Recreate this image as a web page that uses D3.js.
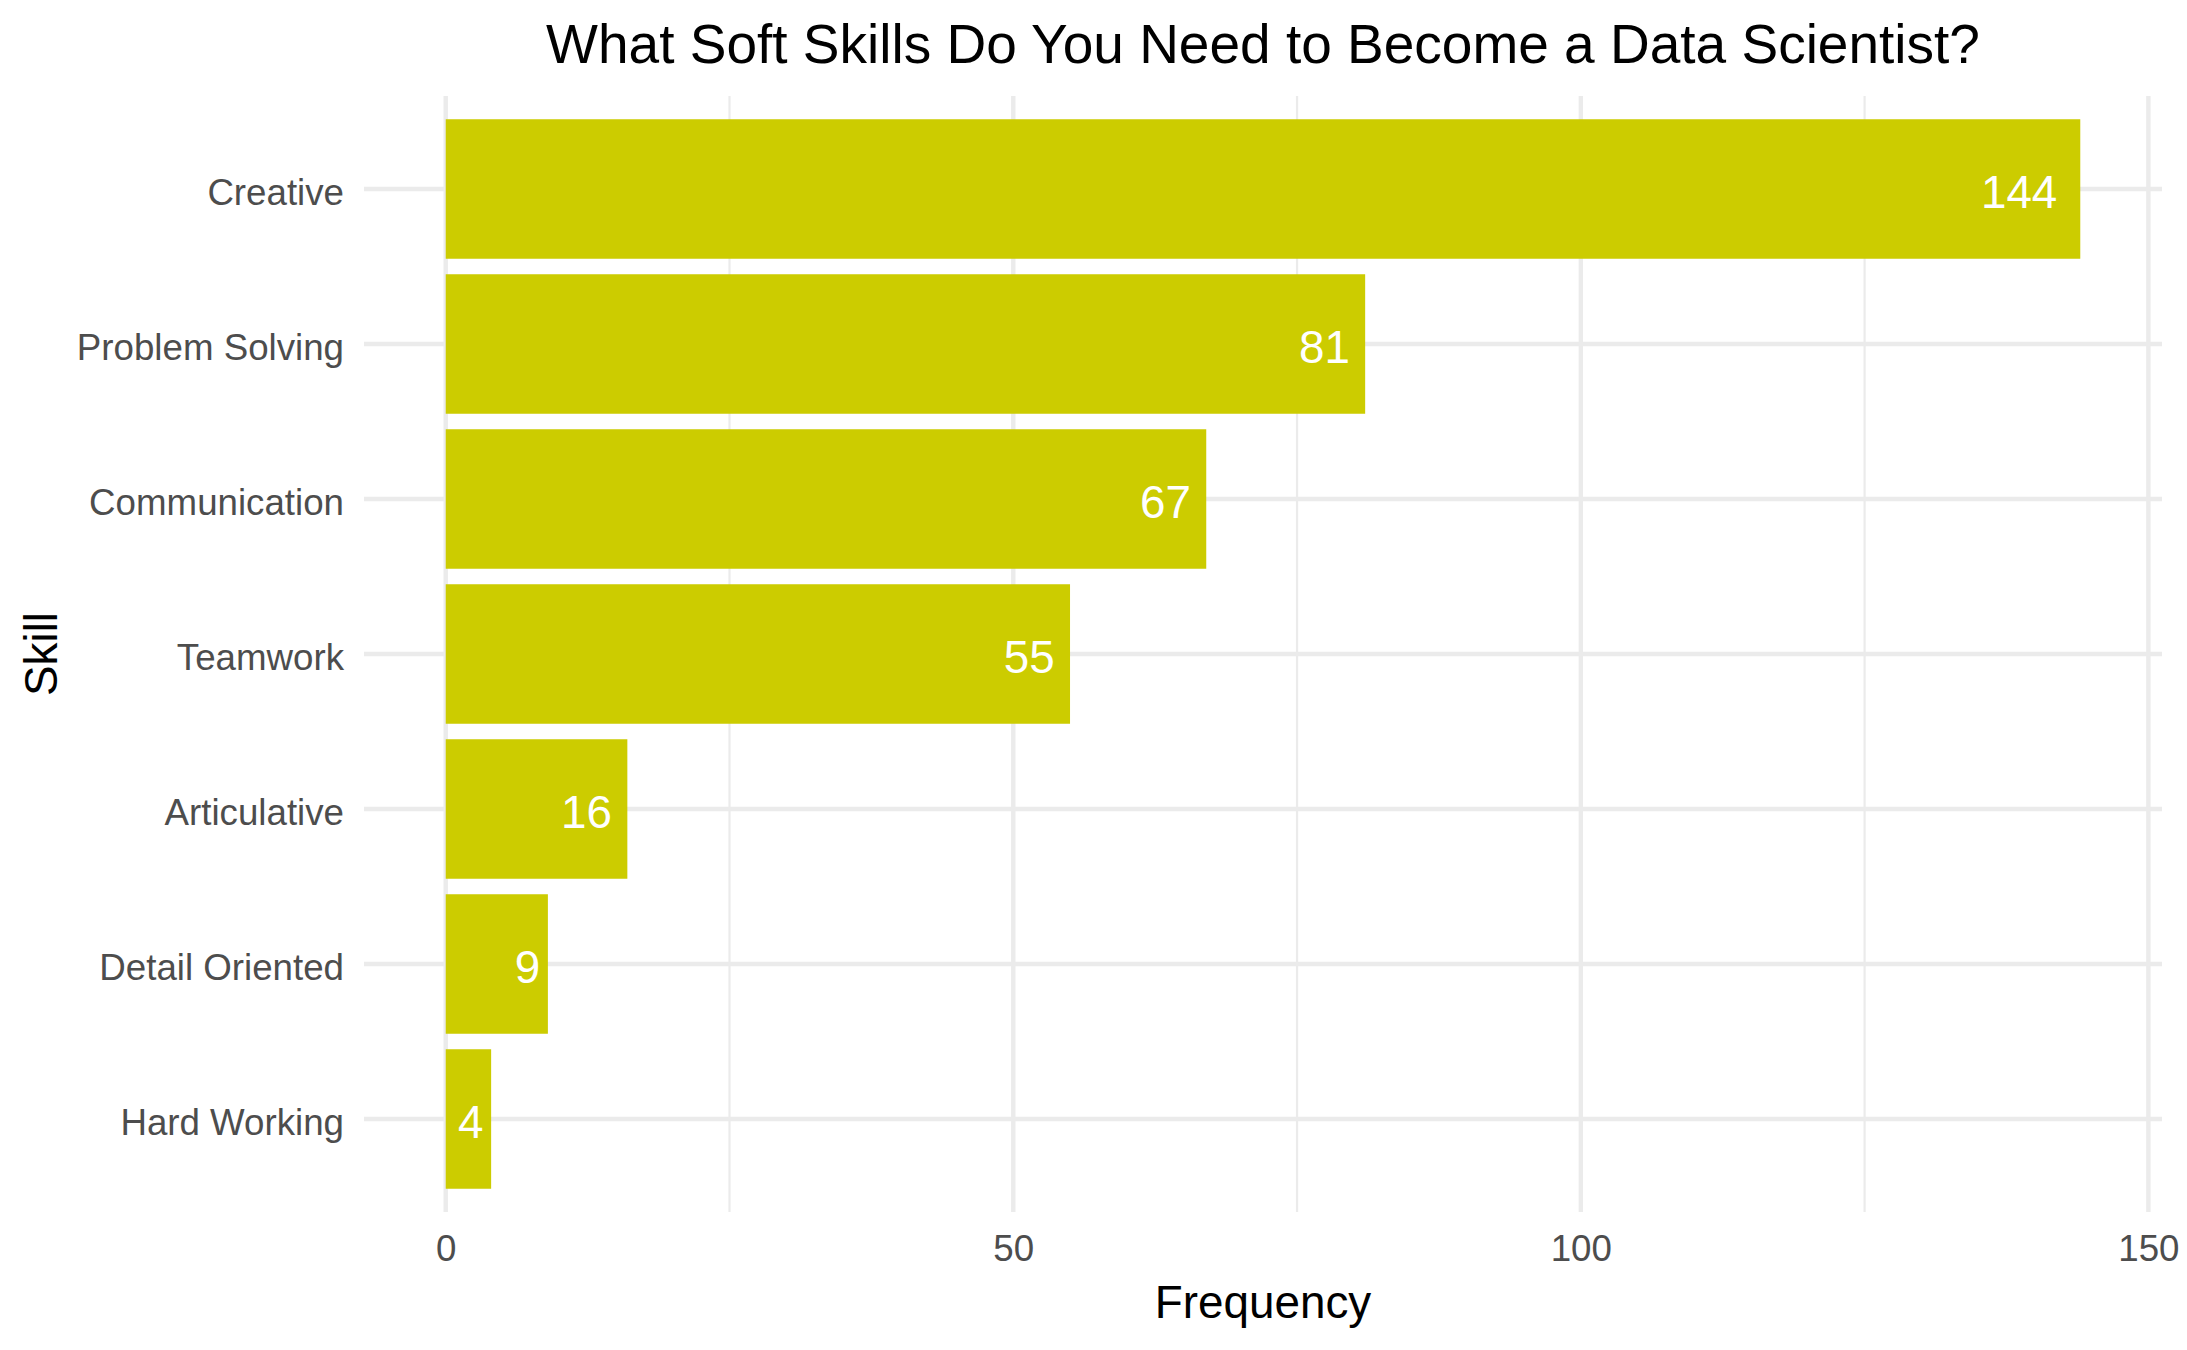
<!DOCTYPE html>
<html>
<head>
<meta charset="utf-8">
<script src="https://cdn.jsdelivr.net/npm/d3@7"></script>
<style>
  html, body { margin: 0; padding: 0; background: #fff; }
  svg { display: block; font-family: "Liberation Sans", Arial, sans-serif; }
</style>
</head>
<body>
<script>
const skills = ["Creative", "Problem Solving", "Communication", "Teamwork", "Articulative", "Detail Oriented", "Hard Working"];
const frequencies = [144, 81, 67, 55, 16, 9, 4];
const xTicks = [0, 50, 100, 150];
const xMinorTicks = [25, 75, 125];
const titleText = "What Soft Skills Do You Need to Become a Data Scientist?";
const xTitle = "Frequency";
const yTitle = "Skill";

const W = 2187, H = 1350;
const panel = { left: 364, right: 2162, top: 96, bottom: 1212 };
const barColor = "#CCCC00";
const gridColor = "#EBEBEB";

const svg = d3.select("body").append("svg").attr("width", W).attr("height", H);

const maxV = d3.max(frequencies);
const pad = 0.05 * maxV;
const x = d3.scaleLinear().domain([-pad, maxV + pad]).range([panel.left, panel.right]);
const y = d3.scaleBand().domain(skills).range([panel.top, panel.bottom])
  .paddingInner(0.1).paddingOuter(0.15);

// minor vertical grid
svg.append("g").selectAll("line").data(xMinorTicks).join("line")
  .attr("x1", d => x(d)).attr("x2", d => x(d))
  .attr("y1", panel.top).attr("y2", panel.bottom)
  .attr("stroke", gridColor).attr("stroke-width", 2.2);
// major vertical grid
svg.append("g").selectAll("line").data(xTicks).join("line")
  .attr("x1", d => x(d)).attr("x2", d => x(d))
  .attr("y1", panel.top).attr("y2", panel.bottom)
  .attr("stroke", gridColor).attr("stroke-width", 4.4);
// major horizontal grid
svg.append("g").selectAll("line").data(skills).join("line")
  .attr("x1", panel.left).attr("x2", panel.right)
  .attr("y1", d => y(d) + y.bandwidth() / 2).attr("y2", d => y(d) + y.bandwidth() / 2)
  .attr("stroke", gridColor).attr("stroke-width", 4.4);

// bars
const data = skills.map((s, i) => ({ skill: s, value: frequencies[i] }));
svg.append("g").selectAll("rect").data(data).join("rect")
  .attr("x", x(0)).attr("y", d => y(d.skill))
  .attr("width", d => x(d.value) - x(0)).attr("height", y.bandwidth())
  .attr("fill", barColor);

// bar labels (hjust ~1.3)
const labels = svg.append("g").selectAll("text").data(data).join("text")
  .attr("y", d => y(d.skill) + y.bandwidth() / 2)
  .attr("dy", "0.42em")
  .attr("text-anchor", "end")
  .attr("fill", "#ffffff")
  .attr("font-size", 45.8)
  .text(d => d.value);
labels.attr("x", function(d) { return x(d.value) - 0.3 * this.getComputedTextLength(); });

// y axis labels
const yAxis = d3.axisLeft(y).tickSize(0).tickPadding(20);
const gy = svg.append("g").attr("transform", `translate(${panel.left},0)`).call(yAxis);
gy.select(".domain").remove();
gy.selectAll("text").attr("font-size", 36.7).attr("fill", "#4D4D4D")
  .attr("font-family", "Liberation Sans, Arial, sans-serif").attr("dy", "0.43em");

// x axis labels
const xAxis = d3.axisBottom(x).tickValues(xTicks).tickSize(0).tickPadding(0);
const gx = svg.append("g").attr("transform", `translate(0,1261)`).call(xAxis);
gx.select(".domain").remove();
gx.selectAll("text").attr("font-size", 36.7).attr("fill", "#4D4D4D")
  .attr("font-family", "Liberation Sans, Arial, sans-serif").attr("dy", 0).attr("y", 0);

// titles
svg.append("text").attr("x", (panel.left + panel.right) / 2).attr("y", 63)
  .attr("text-anchor", "middle").attr("font-size", 55).attr("fill", "#000")
  .text(titleText);
svg.append("text").attr("x", (panel.left + panel.right) / 2).attr("y", 1318)
  .attr("text-anchor", "middle").attr("font-size", 45.8).attr("fill", "#000")
  .text(xTitle);
svg.append("text").attr("transform", `translate(57,${(panel.top + panel.bottom) / 2}) rotate(-90)`)
  .attr("text-anchor", "middle").attr("font-size", 45.8).attr("fill", "#000")
  .text(yTitle);
</script>
</body>
</html>
